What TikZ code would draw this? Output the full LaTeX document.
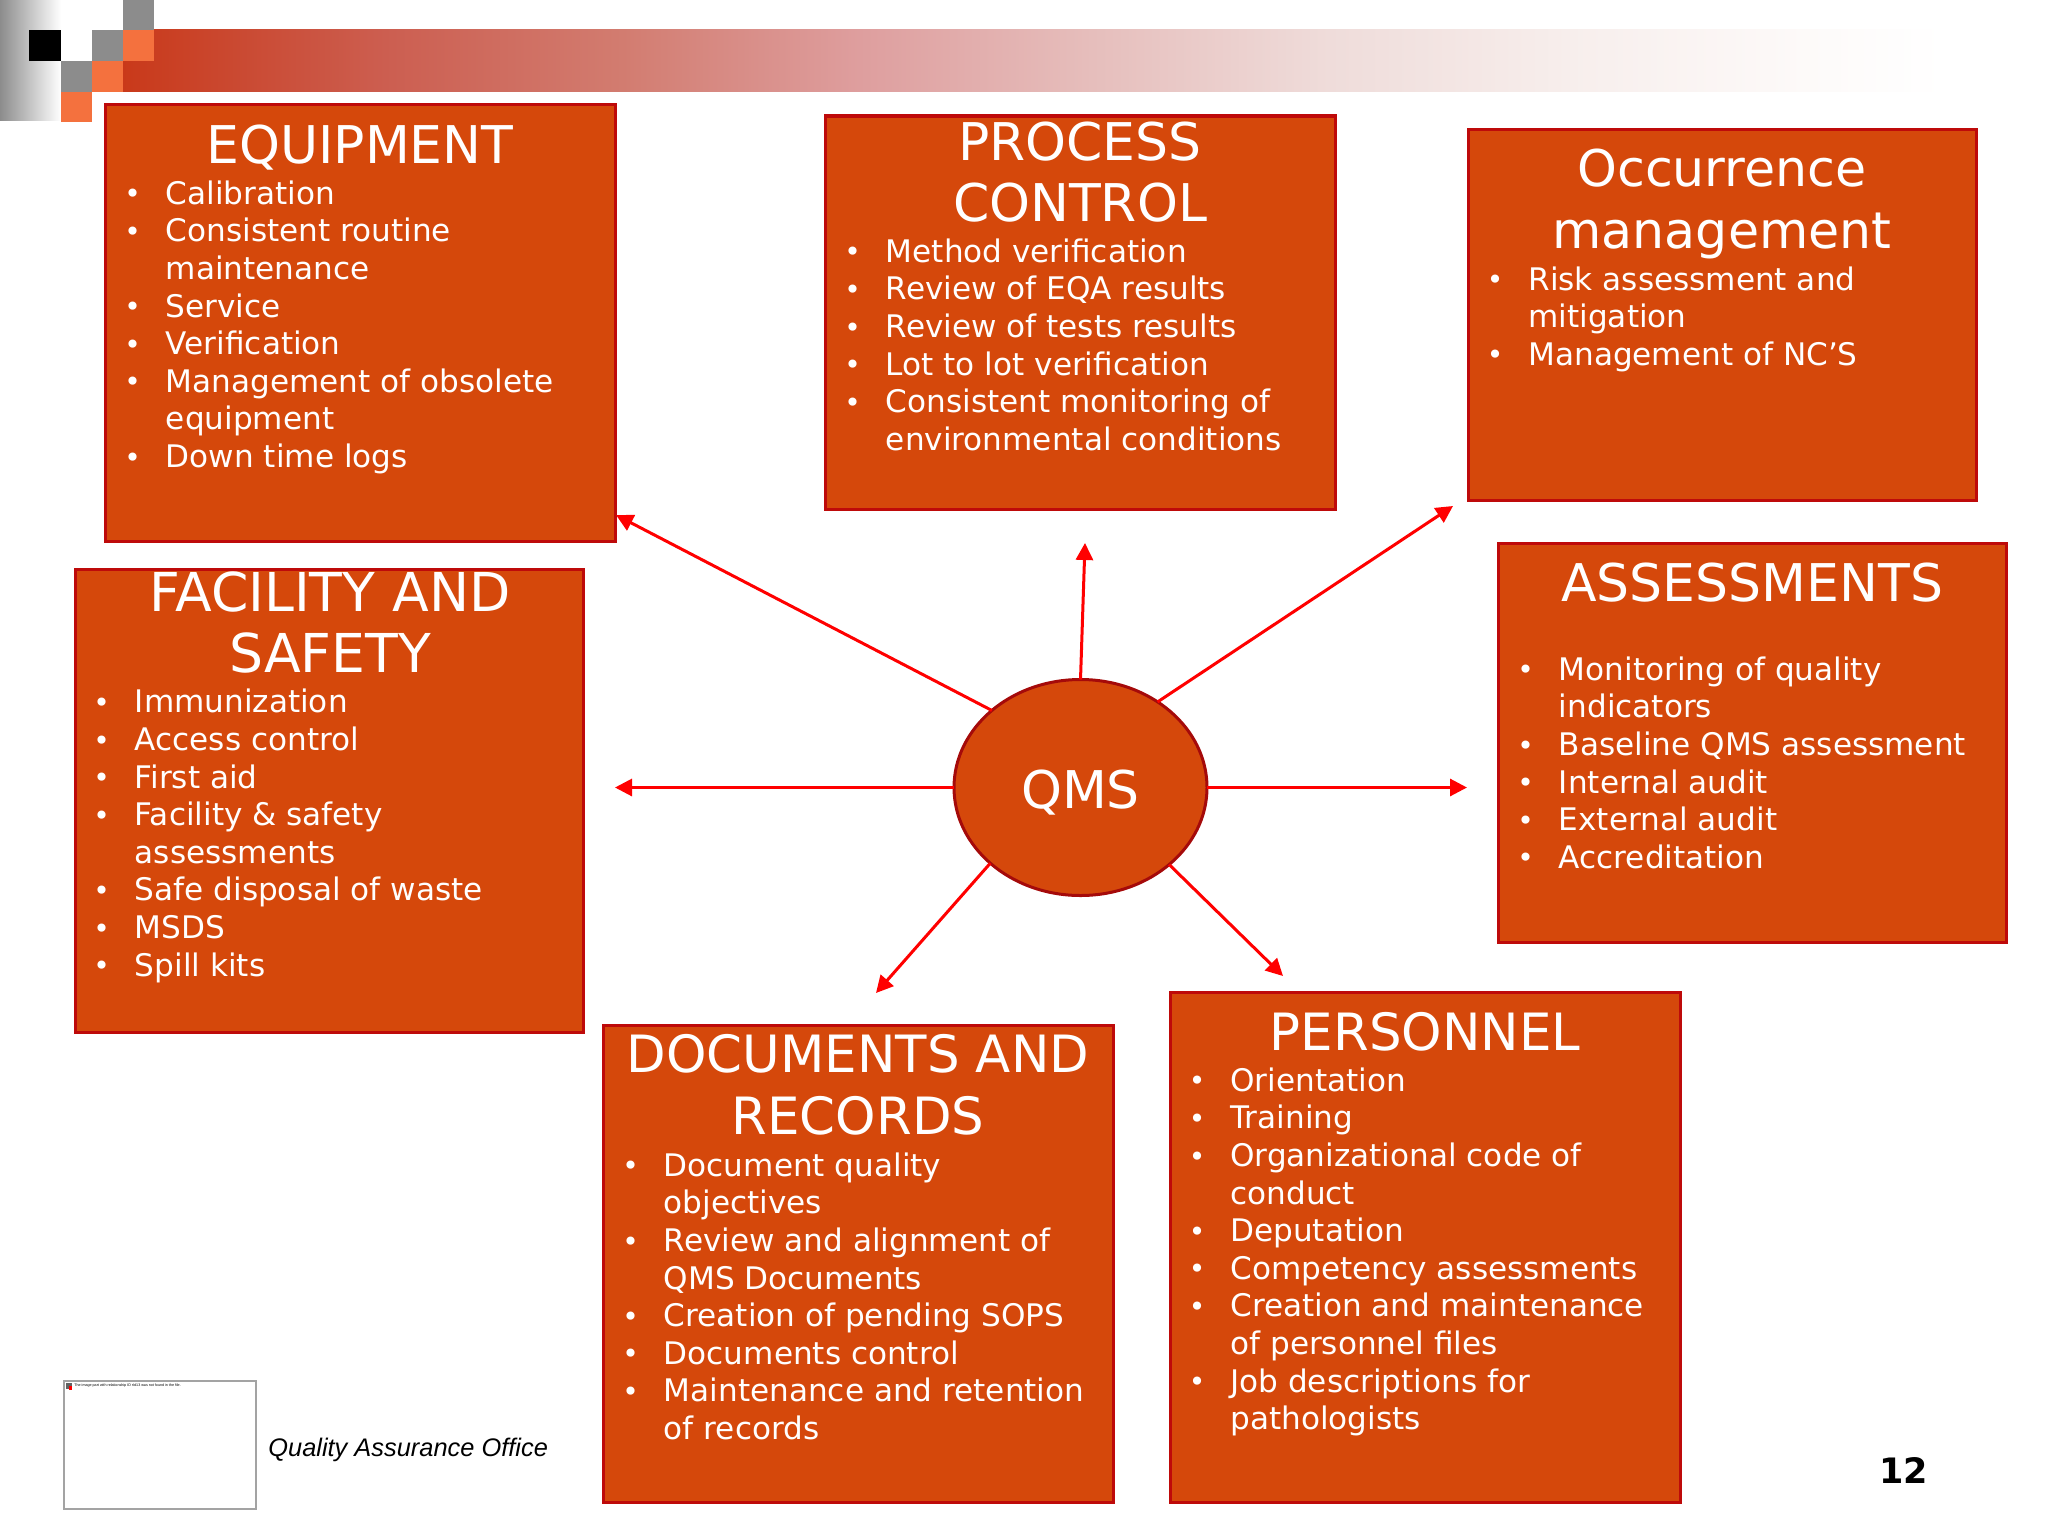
\documentclass[tikz,border=0pt]{standalone}
\usepackage{fontspec}
\setmainfont{DejaVu Sans}
\newfontfamily\lib{Liberation Sans}
\usetikzlibrary{shapes.geometric,arrows.meta}
\definecolor{boxfill}{HTML}{D5480B}
\definecolor{boxline}{HTML}{BE0A0A}
\definecolor{ellline}{HTML}{A50A0A}
\definecolor{sqgray}{HTML}{8C8C8C}
\definecolor{sqorange}{HTML}{F4713E}
\setlength{\unitlength}{0.5pt}
\newcommand{\bl}[1]{\makebox[39.5\unitlength][l]{\hspace*{-1pt}\raisebox{0.2pt}{\fontsize{14}{14}\selectfont•}}#1\\}
\newcommand{\cl}[1]{\hspace*{39.5\unitlength}#1\\}
\pgfdeclarehorizontalshading{barshade}{100bp}{rgb(0bp)=(0.788,0.224,0.102);rgb(25bp)=(0.788,0.224,0.102);rgb(32.2bp)=(0.80,0.369,0.314);rgb(38.7bp)=(0.824,0.486,0.439);rgb(45.2bp)=(0.871,0.62,0.62);rgb(51.6bp)=(0.902,0.745,0.737);rgb(58.1bp)=(0.937,0.863,0.855);rgb(64.6bp)=(0.969,0.933,0.925);rgb(71.1bp)=(0.992,0.98,0.976);rgb(75bp)=(1,1,1);rgb(100bp)=(1,1,1)}
\tikzset{
  x=0.5pt,y=-0.5pt,
  panel/.style={draw=boxline,line width=1.5pt,fill=boxfill,rectangle,inner sep=0pt,outer sep=0pt,anchor=north west},
  ttl/.style={text=white,font=\fontsize{#1}{30.8}\selectfont,align=center,anchor=center,inner sep=0pt},
  ttl/.default=26,
  lst/.style={text=white,font=\fontsize{15.55}{18.8}\selectfont,align=left,anchor=north west,inner sep=0pt},
  link/.style={draw=red,line width=1.5pt,-{Triangle[length=8.5pt,width=8.5pt]}}
}
\begin{document}
\begin{tikzpicture}
\useasboundingbox (0,0) rectangle (2048,1536);
% header decoration
\shade[shading=barshade] (123,30) rectangle (1945,92);
\shade[left color=sqgray,right color=white] (0,0) rectangle (61,120);
\fill[sqgray] (123,0) rectangle (154,30);
\fill[sqorange] (123,30) rectangle (154,61);
\fill[sqgray] (92,30) rectangle (123,61);
\fill[black] (29,30) rectangle (61,61);
\fill[sqgray] (61,61) rectangle (92,92);
\fill[sqorange] (92,61) rectangle (123,92);
\fill[sqorange] (61,92) rectangle (92,122);
% panels
\node[panel,minimum width=254.75pt,minimum height=218.25pt] (eq) at (105.5,105) {};
\node[panel,minimum width=254.75pt,minimum height=196.75pt] (pc) at (825.5,116) {};
\node[panel,minimum width=254pt,minimum height=185.5pt] (oc) at (1468,129) {};
\node[panel,minimum width=254pt,minimum height=199.5pt] (as) at (1498,543) {};
\node[panel,minimum width=254pt,minimum height=231.25pt] (fa) at (75.5,569.5) {};
\node[panel,minimum width=254.75pt,minimum height=238.25pt] (dr) at (603.5,1025.5) {};
\node[panel,minimum width=255pt,minimum height=254.75pt] (pe) at (1170,992.5) {};
% titles
\node[ttl] (eqt) at (360,147.6) {EQUIPMENT};
\node[ttl] (pct) at (1080,172) {PROCESS\\CONTROL};
\node[ttl=25.3] (oct) at (1722,204) {Occurrence\\management};
\node[ttl] (ast) at (1752,582.4) {ASSESSMENTS};
\node[ttl=26.8] (fat) at (330,622.4) {FACILITY AND\\SAFETY};
\node[ttl=25.7] (drt) at (858,1085) {DOCUMENTS AND\\RECORDS};
\node[ttl=25.7] (pet) at (1425,1032) {PERSONNEL};
% lists
\node[lst] (eql) at (126,180.3) {\bl{Calibration}\bl{Consistent routine}\cl{maintenance}\bl{Service}\bl{Verification}\bl{Management of obsolete}\cl{equipment}\bl{Down time logs}};
\node[lst] (pcl) at (846,238.3) {\bl{Method verification}\bl{Review of EQA results}\bl{Review of tests results}\bl{Lot to lot verification}\bl{Consistent monitoring of}\cl{environmental conditions}};
\node[lst] (ocl) at (1488.5,266) {\bl{Risk assessment and}\cl{mitigation}\bl{Management of NC’S}};
\node[lst] (asl) at (1519,656.3) {\bl{Monitoring of quality}\cl{indicators}\bl{Baseline QMS assessment}\bl{Internal audit}\bl{External audit}\bl{Accreditation}};
\node[lst] (fal) at (95,688.8) {\bl{Immunization}\bl{Access control}\bl{First aid}\bl{Facility \& safety}\cl{assessments}\bl{Safe disposal of waste}\bl{MSDS}\bl{Spill kits}};
\node[lst] (drl) at (624,1152.3) {\bl{Document quality}\cl{objectives}\bl{Review and alignment of}\cl{QMS Documents}\bl{Creation of pending SOPS}\bl{Documents control}\bl{Maintenance and retention}\cl{of records}};
\node[lst] (pel) at (1190.5,1067.3) {\bl{Orientation}\bl{Training}\bl{Organizational code of}\cl{conduct}\bl{Deputation}\bl{Competency assessments}\bl{Creation and maintenance}\cl{of personnel files}\bl{Job descriptions for}\cl{pathologists}};
% centre
\node[ellipse,draw=ellline,line width=1.5pt,fill=boxfill,minimum width=126.5pt,minimum height=108pt,inner sep=0pt,outer sep=0pt] (qms) at (1080.5,787.5) {};
\node[text=white,inner sep=0pt,text height=19pt,text depth=0pt,font=\fontsize{26}{30}\selectfont] (qmst) at (1080.5,789.5) {QMS};
\coordinate (tne) at (1453,506);
\coordinate (tup) at (1085,543);
\coordinate (tnw) at (616,515);
\coordinate (tw) at (615,787.5);
\coordinate (te) at (1467,787.5);
\coordinate (tsw) at (876,993);
\coordinate (tse) at (1283,976);
\draw[link] (qms.48.5) -- (tne);
\draw[link] (qms.90) -- (tup);
\draw[link] (qms.139.5) -- (tnw);
\draw[link] (qms.180) -- (tw);
\draw[link] (qms.0) -- (te);
\draw[link] (qms.220.5) -- (tsw);
\draw[link] (qms.319.8) -- (tse);
% footer
\node[draw=sqgray!80,line width=1pt,fill=white,minimum width=95.75pt,minimum height=64pt,inner sep=0pt,outer sep=0pt,anchor=north west] (ph) at (64.3,1381) {};
\node[anchor=west,inner sep=0pt,font=\lib\fontsize{1.83}{2.2}\selectfont] (pht) at (74,1386) {The image part with relationship ID rId13 was not found in the file.};
\fill[sqgray!70!black] (66,1383) rectangle (72,1389);
\fill[red] (69,1386) rectangle (72,1390);
\node[anchor=base west,inner sep=0pt,font=\lib\itshape\fontsize{12.7}{15}\selectfont] (qa) at (268,1456.5) {Quality Assurance Office};
\node[anchor=base west,inner sep=0pt,font=\bfseries\fontsize{17.5}{20}\selectfont] (pg) at (1879,1483) {12};
\end{tikzpicture}
\end{document}
